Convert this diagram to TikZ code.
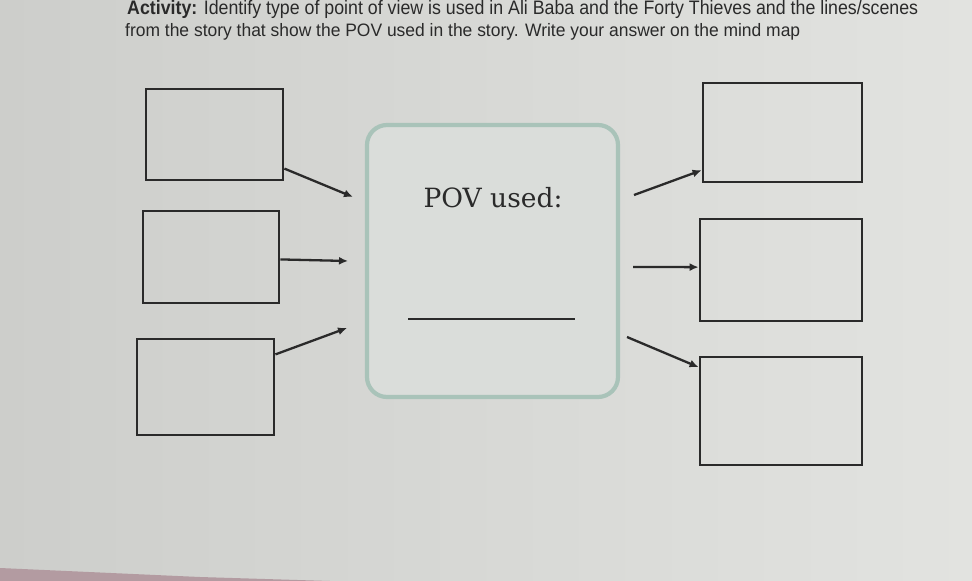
\documentclass[tikz,border=0pt]{standalone}
\usepackage{fontspec}
\usepackage{graphicx}
\setmainfont{DejaVu Serif}
\newfontfamily\instrfont{Liberation Sans}
\usetikzlibrary{arrows.meta}
\definecolor{paperL}{HTML}{CDCECB}
\definecolor{paperR}{HTML}{E2E3E0}
\definecolor{inkc}{HTML}{2A2A2A}
\definecolor{greenbd}{HTML}{A9C3B9}
\definecolor{centerfill}{HTML}{DADDDA}
\definecolor{pinkstrip}{HTML}{B39BA1}
\tikzset{
  blankbox/.style={draw=inkc, line width=2.8pt, rectangle, inner sep=0pt},
  povbox/.style={draw=greenbd, fill=centerfill, line width=4.2pt, rounded corners=20pt, rectangle, inner sep=0pt},
  linkarrow/.style={draw=inkc, line width=2.3pt, -{Latex[length=9pt,width=8pt]}},
  instr/.style={anchor=base west, inner sep=0pt, text=inkc}
}
\begin{document}
\begin{tikzpicture}[x=1pt,y=-1pt]
\useasboundingbox (0,0) rectangle (972,581);
\clip (0,0) rectangle (972,581);
\shade[left color=paperL, right color=paperR] (0,0) rectangle (972,581);
\fill[pinkstrip] (0,568) -- (200,577) -- (330,581) -- (0,581) -- cycle;

% instructions
\node[instr, font=\instrfont\fontsize{19.5}{22}\selectfont] (line1) at (127,14) {\resizebox{791pt}{\height}{\textbf{Activity:} Identify type of point of view is used in Ali Baba and the Forty Thieves and the lines/scenes}};
\node[instr, font=\instrfont\fontsize{18}{21}\selectfont] (line2) at (125,36) {\resizebox{675pt}{\height}{from the story that show the POV used in the story. Write your answer on the mind map}};

% left boxes
\node[blankbox, minimum width=137pt, minimum height=91pt] (L1) at (214.5,134.5) {};
\node[blankbox, minimum width=136pt, minimum height=92pt] (L2) at (211,257) {};
\node[blankbox, minimum width=137pt, minimum height=96pt] (L3) at (205.5,387) {};

% right boxes
\node[blankbox, minimum width=159pt, minimum height=99pt] (R1) at (782.5,132.5) {};
\node[blankbox, minimum width=162pt, minimum height=102pt] (R2) at (781,270) {};
\node[blankbox, minimum width=162pt, minimum height=108pt] (R3) at (781,411) {};

% center box
\node[povbox, minimum width=251pt, minimum height=272pt] (C) at (492.5,261) {};
\node[anchor=base, inner sep=0pt, text=inkc, font=\fontsize{26.5}{30}\selectfont] (pov) at (493,207) {POV used:};
\coordinate (u1) at (408,319);
\coordinate (u2) at (575,319);
\draw[inkc, line width=1.8pt] (u1) -- (u2);

% arrow free ends
\coordinate (a1) at (353,197);
\coordinate (a2) at (348,261);
\coordinate (a3) at (347,328);
\coordinate (b1) at (634,195);
\coordinate (b2) at (633,267);
\coordinate (b3) at (627,337);

\draw[linkarrow] (L1.-26) -- (a1);
\draw[linkarrow] (L2.-2) -- (a2);
\draw[linkarrow] (L3.25) -- (a3);
\draw[linkarrow] (b1) -- (R1.205);
\draw[linkarrow] (b2) -- (R2.178);
\draw[linkarrow] (b3) -- (R3.152);
\end{tikzpicture}
\end{document}
